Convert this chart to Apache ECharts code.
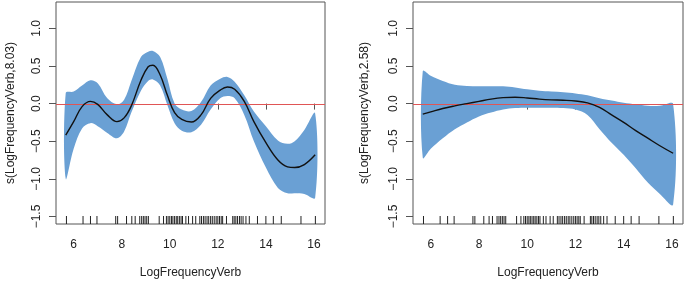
<!DOCTYPE html>
<html>
<head>
<meta charset="utf-8">
<script src="https://cdn.jsdelivr.net/npm/echarts@6/dist/echarts.min.js"></script>
<style>
  html, body { margin: 0; padding: 0; background: #fff; }
  #chart { width: 685px; height: 284px; }
</style>
</head>
<body>
<div id="chart"></div>
<script>
// rug: observed LogFrequencyVerb values (same for both panels)
const rugX = [5.70, 6.39, 6.70, 6.97, 7.75, 7.83, 8.20, 8.42, 8.56,
  8.75, 8.83, 8.90, 8.97, 9.04, 9.11, 9.56, 9.74,
  9.86, 9.93, 10.0, 10.07, 10.13, 10.2, 10.27, 10.33, 10.4, 10.47, 10.53,
  10.67, 10.78, 10.95, 11.08,
  11.25, 11.32, 11.4, 11.47, 11.55, 11.62, 11.7, 11.77, 11.85, 11.93, 12.0, 12.07, 12.14, 12.2,
  12.36, 12.62, 12.68, 12.75, 12.82, 12.9, 12.97, 13.05, 13.17,
  13.31, 13.65, 14.0, 14.31, 14.64, 15.46, 16.06];

// left panel: s(LogFrequencyVerb, 8.03)
const leftX = [5.67, 6.0, 6.35, 6.7, 7.0, 7.4, 7.8, 8.1, 8.4, 8.8, 9.1, 9.3, 9.6, 9.9, 10.2,
  10.5, 10.9, 11.3, 11.7, 12.1, 12.4, 12.7, 13.1, 13.5, 14.0, 14.5, 14.9, 15.2, 15.6, 16.05];
const leftFit = [-0.42, -0.24, -0.04, 0.03, -0.01, -0.15, -0.24, -0.19, -0.03, 0.31, 0.49, 0.51,
  0.38, 0.11, -0.12, -0.21, -0.245, -0.15, 0.07, 0.18, 0.22, 0.19, 0.03, -0.24, -0.52, -0.75,
  -0.84, -0.85, -0.81, -0.68];
const leftUpper = [0.14, 0.16, 0.24, 0.31, 0.27, 0.07, -0.01, 0.05, 0.30, 0.62, 0.69, 0.70,
  0.62, 0.33, 0.0, -0.08, -0.10, 0.02, 0.24, 0.33, 0.355, 0.29, 0.11, -0.105, -0.30, -0.49,
  -0.535, -0.50, -0.35, -0.13];
const leftLower = [-1.0, -0.6, -0.33, -0.26, -0.30, -0.39, -0.46, -0.37, -0.12, 0.17, 0.30, 0.32,
  0.24, -0.02, -0.26, -0.36, -0.38, -0.28, -0.08, 0.07, 0.10, 0.07, -0.15, -0.50, -0.85, -1.12,
  -1.19, -1.19, -1.20, -1.25];

// right panel: s(LogFrequencyVerb, 2.58)
const rightX = [5.67, 6.0, 6.5, 7.0, 7.5, 8.0, 8.5, 9.0, 9.5, 10.0, 10.5, 11.0, 11.5, 12.0,
  12.5, 13.0, 13.5, 14.0, 14.5, 15.0, 15.5, 16.05];
const rightFit = [-0.14, -0.11, -0.065, -0.03, 0.0, 0.03, 0.06, 0.08, 0.085, 0.075, 0.06, 0.05,
  0.045, 0.035, 0.01, -0.05, -0.15, -0.25, -0.36, -0.46, -0.56, -0.66];
const rightUpper = [0.43, 0.37, 0.30, 0.25, 0.235, 0.23, 0.23, 0.23, 0.215, 0.19, 0.17, 0.16,
  0.15, 0.135, 0.11, 0.07, 0.04, 0.01, -0.01, -0.03, -0.03, -0.01];
const rightLower = [-0.72, -0.6, -0.46, -0.34, -0.25, -0.17, -0.12, -0.08, -0.06, -0.055, -0.055,
  -0.055, -0.06, -0.08, -0.15, -0.34, -0.52, -0.68, -0.86, -1.05, -1.2, -1.34];

const xTicks = [6, 8, 10, 12, 14, 16];
const yTicks = [-1.5, -1, -0.5, 0, 0.5, 1];
const yTitles = ['s(LogFrequencyVerb,8.03)', 's(LogFrequencyVerb,2.58)'];
const xTitle = 'LogFrequencyVerb';
const zeroLine = 0;

const FONT = '"Liberation Sans", Arial, Helvetica, sans-serif';
const BAND = '#6aa0d4';
const X_MIN = 5.265, X_MAX = 16.46;
const Y_MIN = -1.6, Y_MAX = 1.35;

const chart = echarts.init(document.getElementById('chart'), null, { renderer: 'canvas' });

const grids = [
  { left: 56, top: 2, width: 269, height: 225 },
  { left: 413, top: 2, width: 270, height: 225 }
].map(g => Object.assign(g, { show: true, borderColor: '#555', borderWidth: 1, backgroundColor: 'transparent' }));

function xAxis(i) {
  return {
    type: 'value', gridIndex: i, min: X_MIN, max: X_MAX,
    name: xTitle, nameLocation: 'middle', nameGap: 43,
    nameTextStyle: { fontFamily: FONT, fontSize: 12, color: '#222' },
    axisLine: { show: false },
    axisTick: { show: true, customValues: xTicks, length: 6, lineStyle: { color: '#555' } },
    axisLabel: { customValues: xTicks, margin: 15, fontFamily: FONT, fontSize: 12, color: '#222' },
    splitLine: { show: false }
  };
}

function yAxis(i) {
  return {
    type: 'value', gridIndex: i, min: Y_MIN, max: Y_MAX,
    name: yTitles[i], nameLocation: 'middle', nameGap: i === 0 ? 39 : 42,
    nameTextStyle: { fontFamily: FONT, fontSize: 12, color: '#222' },
    axisLine: { show: false },
    axisTick: { show: true, customValues: yTicks, length: 7, lineStyle: { color: '#555' } },
    axisLabel: {
      customValues: yTicks, rotate: 90, margin: 13,
      fontFamily: FONT, fontSize: 12, color: '#222',
      formatter: v => v.toFixed(1).replace('-', '\u2212')
    },
    splitLine: { show: false }
  };
}

function bandSeries(i, xs, lo, hi) {
  return {
    type: 'custom', xAxisIndex: i, yAxisIndex: i, z: 1, silent: true,
    data: [[xs[0], lo[0]]],
    renderItem: function (params, api) {
      const pts = [];
      for (let k = 0; k < xs.length; k++) pts.push(api.coord([xs[k], hi[k]]));
      for (let k = xs.length - 1; k >= 0; k--) pts.push(api.coord([xs[k], lo[k]]));
      return { type: 'polygon', shape: { points: pts, smooth: 0.35 }, style: { fill: BAND, stroke: null } };
    }
  };
}

// horizontal reference line at s = 0, drawn over the band (snapped to a pixel row)
function zeroSeries(i) {
  return {
    type: 'custom', xAxisIndex: i, yAxisIndex: i, z: 3, silent: true,
    data: [[X_MIN, zeroLine]],
    renderItem: function (params, api) {
      const a = api.coord([X_MIN, zeroLine]);
      const b = api.coord([X_MAX, zeroLine]);
      const y = Math.round(a[1]) + 0.5;
      return {
        type: 'line',
        shape: { x1: a[0], y1: y, x2: b[0], y2: y },
        style: { stroke: '#e05555', lineWidth: 1 }
      };
    }
  };
}

function fitSeries(i, xs, ys) {
  return {
    type: 'line', xAxisIndex: i, yAxisIndex: i, z: 4, silent: true,
    data: xs.map((x, k) => [x, ys[k]]),
    smooth: 0.4, showSymbol: false,
    lineStyle: { color: '#111', width: 1.4 }
  };
}

function rugSeries(i) {
  return {
    type: 'custom', xAxisIndex: i, yAxisIndex: i, z: 5, silent: true,
    data: rugX.map(x => [x, Y_MIN]),
    renderItem: function (params, api) {
      const p = api.coord([api.value(0), api.value(1)]);
      return {
        type: 'line',
        shape: { x1: p[0], y1: p[1], x2: p[0], y2: p[1] - 8 },
        style: { stroke: '#222', lineWidth: 1 }
      };
    }
  };
}

chart.setOption({
  animation: false,
  backgroundColor: '#fff',
  grid: grids,
  xAxis: [xAxis(0), xAxis(1)],
  yAxis: [yAxis(0), yAxis(1)],
  series: [
    bandSeries(0, leftX, leftLower, leftUpper),
    zeroSeries(0),
    fitSeries(0, leftX, leftFit),
    rugSeries(0),
    bandSeries(1, rightX, rightLower, rightUpper),
    zeroSeries(1),
    fitSeries(1, rightX, rightFit),
    rugSeries(1)
  ]
});
</script>
</body>
</html>
